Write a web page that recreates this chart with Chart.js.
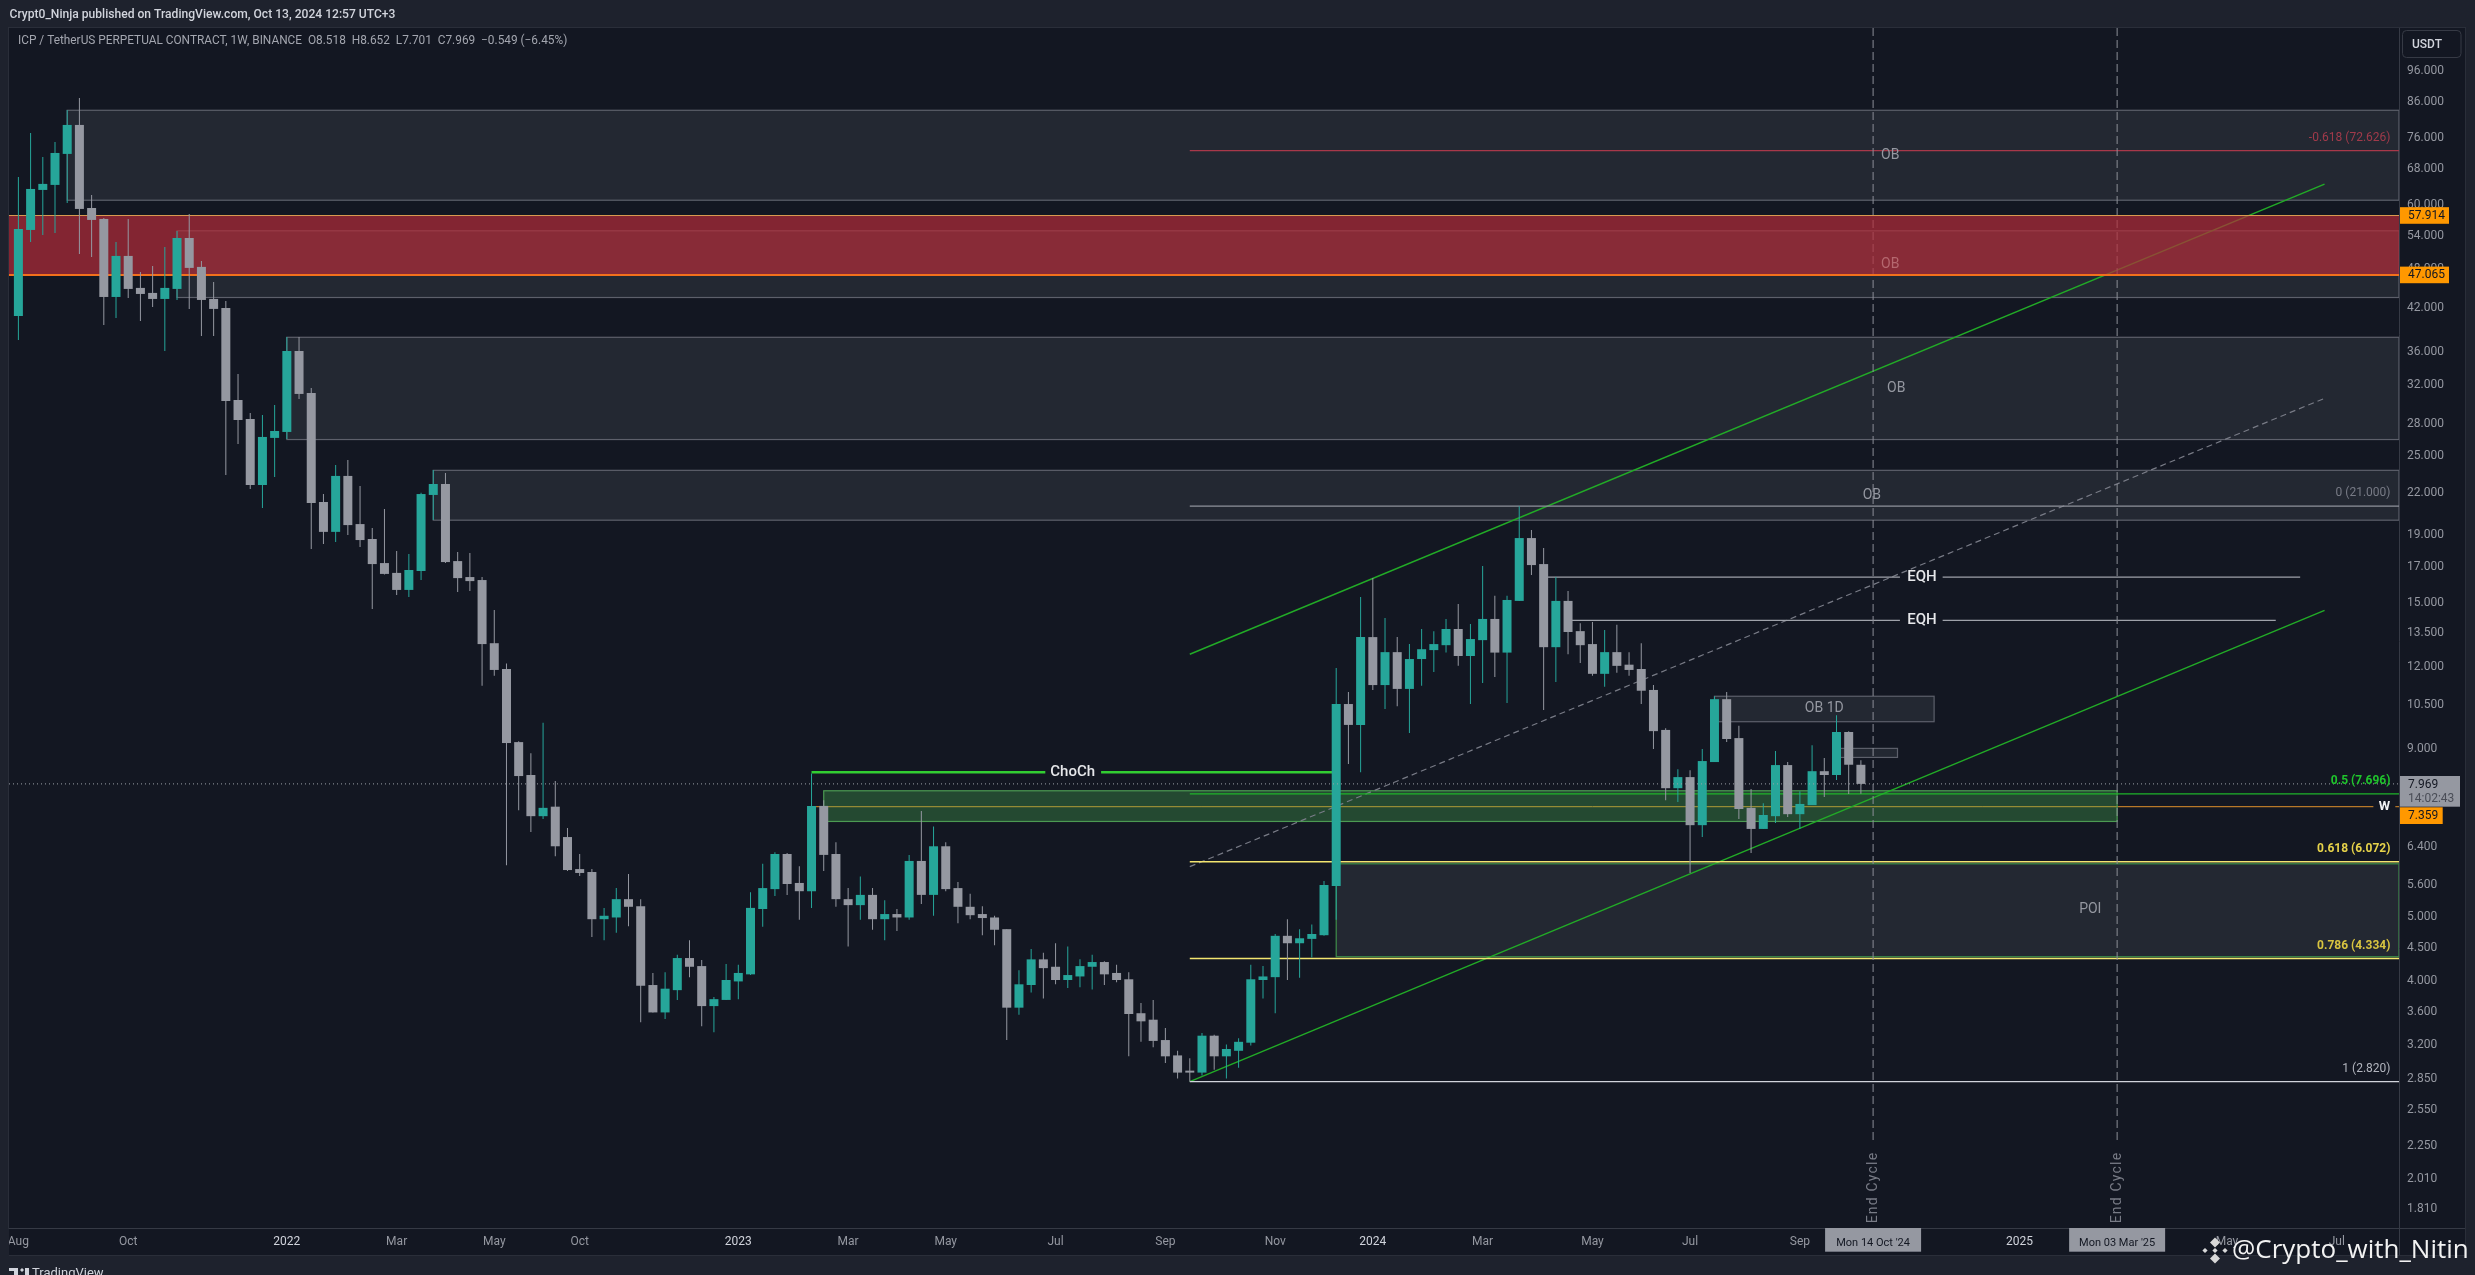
<!DOCTYPE html>
<html>
<head>
<meta charset="utf-8">
<title>ICP / TetherUS 1W</title>
<script src="https://cdn.jsdelivr.net/npm/chart.js@4"></script>
<style>
  html, body { margin: 0; padding: 0; background: #1e222d; }
  canvas { display: block; }
</style>
</head>
<body>
<canvas id="chart" width="2475" height="1275"></canvas>
<script>
// weekly candles
const opens = [40.79,55.06,63.31,64.43,71.79,79.43,59.45,57.22,43.58,50.29,44.98,44.20,43.28,44.82,53.54,48.40,43.28,41.94,30.42,28.47,
  22.61,26.65,27.21,36.09,31.17,21.31,19.20,23.34,19.73,18.73,17.22,16.64,15.68,16.75,21.84,22.69,17.34,16.40,16.23,13.02,
  11.90,9.22,8.22,7.12,7.36,6.62,5.92,5.86,4.97,5.00,5.33,5.20,3.95,3.59,3.88,4.34,4.22,3.67,3.75,4.00,
  4.10,5.15,5.52,6.24,5.64,5.48,7.38,6.24,5.33,5.22,5.41,4.97,5.06,5.00,6.09,5.41,6.41,5.54,5.19,5.06,
  5.00,4.80,3.65,3.95,4.32,4.21,4.02,4.07,4.21,4.28,4.12,4.03,3.58,3.50,3.26,3.09,2.93,2.91,3.31,3.08,
  3.14,3.23,4.02,4.06,4.69,4.57,4.64,4.70,5.58,10.53,9.79,13.30,11.25,12.62,11.10,12.32,12.71,12.93,13.68,12.45,
  13.16,14.17,12.60,15.09,18.79,17.16,12.84,15.09,13.58,12.98,11.70,12.62,12.08,11.90,11.06,9.62,7.85,8.16,6.90,8.60,
  10.71,9.35,7.33,6.81,7.12,8.51,7.17,7.40,8.33,8.22,9.55,8.518];
const highs = [66.26,77.24,71.04,74.86,83.70,87.27,62.21,57.42,52.80,57.22,47.56,48.56,51.89,54.87,58.23,49.42,45.93,42.98,33.31,29.07,
  28.87,29.89,37.90,37.90,31.72,21.91,24.24,24.67,22.53,19.47,20.79,17.96,17.77,22.00,23.83,23.58,17.90,17.84,16.40,14.62,
  12.13,9.25,8.87,9.86,8.05,6.83,6.24,5.92,5.17,5.54,5.82,5.33,4.12,4.13,4.39,4.62,4.31,3.79,4.25,4.24,
  5.46,6.03,6.28,6.26,5.98,8.26,7.53,6.50,5.54,5.77,5.54,5.31,5.15,6.22,7.25,6.87,6.50,5.66,5.43,5.20,
  5.03,4.80,4.16,4.48,4.42,4.57,4.52,4.32,4.39,4.29,4.24,4.13,3.71,3.75,3.40,3.14,3.06,3.34,3.32,3.21,
  3.28,4.24,4.22,4.72,4.97,4.80,4.88,5.68,11.94,10.98,15.30,16.34,14.22,13.30,12.98,13.68,13.58,14.17,14.93,13.92,
  17.05,15.36,15.36,21.00,19.33,18.15,16.40,15.62,13.96,14.02,13.63,13.88,12.62,13.02,11.25,9.68,8.39,8.36,9.00,10.82,
  10.98,9.76,7.83,7.45,8.94,8.60,7.77,9.12,8.72,10.13,9.58,8.652];
const lows = [37.51,52.80,54.11,54.49,60.51,50.64,50.11,39.52,40.50,43.43,40.08,42.09,36.09,43.13,41.80,38.04,38.04,23.42,26.10,22.30,
  20.87,23.26,26.55,30.53,18.08,18.40,18.53,19.00,18.21,14.67,16.55,15.41,15.30,16.23,20.01,17.22,15.57,15.62,11.22,11.62,
  6.00,7.27,6.74,7.05,6.19,5.88,5.78,4.67,4.62,4.74,4.85,3.47,3.59,3.51,3.75,4.06,3.42,3.35,3.75,3.76,
  4.09,4.84,5.39,5.41,4.96,5.17,5.88,5.19,4.52,4.96,4.79,4.62,4.77,4.96,5.24,5.03,5.48,4.90,4.97,4.70,
  4.54,3.26,3.56,3.85,3.77,3.96,3.91,3.92,3.89,3.95,3.99,3.08,3.24,3.18,3.01,2.85,2.82,2.88,2.94,2.85,
  2.96,3.20,3.77,3.58,4.02,4.05,4.35,4.69,4.96,8.54,8.30,11.06,10.35,10.45,9.52,11.22,11.78,12.60,12.03,10.53,
  11.33,11.57,10.57,15.09,16.52,10.31,11.37,12.53,12.15,11.62,11.18,11.74,11.62,10.53,9.00,7.53,7.48,5.84,6.62,8.60,
  9.22,7.05,6.26,6.81,6.95,7.10,6.81,7.40,7.61,8.08,7.69,7.701];
const closes = [55.25,63.53,64.66,72.03,79.43,59.25,57.02,43.58,50.29,44.82,44.04,43.28,44.98,53.54,48.23,43.13,41.80,30.31,28.37,22.61,
  26.74,27.30,36.09,31.07,21.24,19.20,23.34,19.66,18.66,17.16,16.58,15.68,16.81,21.91,22.69,17.28,16.34,16.17,12.98,11.86,
  9.19,8.19,7.12,7.33,6.41,5.90,5.84,4.97,5.03,5.33,5.19,3.94,3.59,3.90,4.34,4.21,3.67,3.76,4.02,4.12,
  5.17,5.54,6.24,5.62,5.48,7.38,6.22,5.33,5.22,5.41,4.97,5.06,5.00,6.09,5.41,6.41,5.52,5.19,5.04,4.99,
  4.79,3.65,3.96,4.32,4.19,4.02,4.09,4.22,4.28,4.10,4.02,3.57,3.48,3.25,3.08,2.91,2.91,3.31,3.08,3.16,
  3.24,4.03,4.07,4.69,4.57,4.65,4.72,5.60,10.53,9.79,13.30,11.25,12.62,11.10,12.32,12.75,12.98,13.68,12.45,13.21,
  14.17,12.60,15.14,18.79,17.10,12.84,15.09,13.54,12.93,11.70,12.62,12.03,11.86,11.03,9.58,7.85,8.16,6.90,8.63,10.71,
  9.32,7.30,6.81,7.15,8.51,7.17,7.43,8.33,8.22,9.55,8.52,7.969];

// axes
const yTicks = [96,86,76,68,60,54,48,42,36,32,28,25,22,19,17,15,13.5,12,10.5,9,6.4,5.6,5,4.5,4,3.6,3.2,2.85,2.55,2.25,2.01,1.81];
const xTickPositions = [0,9,22,31,39,46,59,68,76,85,94,103,111,120,129,137,146,164,181,190];
const xTickLabels = ['Aug','Oct','2022','Mar','May','Oct','2023','Mar','May','Jul','Sep','Nov','2024','Mar','May','Jul','Sep','2025','May','Jul'];
const yMin = 1.692;
const yMax = 111.4;
const xMin = -0.77;
const xMax = 195.1;

// drawings: [from index, to index, top price, bottom price]
const obZones = [
  [4, xMax, 83.6, 61.08],
  [13, xMax, 54.9, 43.5],
  [22, xMax, 37.86, 26.5],
  [34, xMax, 23.8, 20.0],
  [139, 157, 10.82, 9.9],
  [149, 154, 9.02, 8.74]
];
const poiZone = [108, xMax, 6.03, 4.36];
const greenZone = [66, 172, 7.78, 6.99];
const redZone = [xMin, xMax, 57.914, 47.065];

const fibLevels = [72.626, 21.0, 7.696, 6.072, 4.334, 2.82];
const fibLabels = ['-0.618 (72.626)', '0 (21.000)', '0.5 (7.696)', '0.618 (6.072)', '0.786 (4.334)', '1 (2.820)'];
const fibLineColors = ['#a8384a', '#8f929b', '#1fb52a', '#f3e56f', '#f3e56f', '#d1d4dc'];
const fibTextColors = ['#a03a4a', '#787b86', '#1fc42c', '#e6d24a', '#d8c440', '#b2b5be'];
const fibTextFonts = ['12px Roboto', '12px Roboto', 'bold 12px Roboto', 'bold 12px Roboto', 'bold 12px Roboto', '12px Roboto'];

const channelStart = 96;
const channelEnd = 189;
const channelUpper = [12.53, 64.6];
const channelMiddle = [5.97, 30.6];
const channelLower = [2.82, 14.6];

const chochLevel = 8.30;
const eqhHigh = 16.4;
const eqhLow = 14.1;
const wLevel = 7.359;
const lastPrice = 7.969;
const cycleEnds = [152, 172];
const cycleDates = ["Mon 14 Oct '24", "Mon 03 Mar '25"];

function candleColor(i) {
    return closes[i] >= opens[i] ? '#26a69a' : '#9598a1';
}

function lineSet(label, points, color, width, dash) {
    return {
        type: 'line',
        label,
        data: points.map(p => ({ x: p[0], y: p[1] })),
        borderColor: color,
        borderWidth: width,
        borderDash: dash || [],
        pointRadius: 0,
        tension: 0
    };
}

const underlays = [
    lineSet('w left', [[65, wLevel], [193, wLevel]], '#e0902a', 1),
    lineSet('w right', [[194.8, wLevel], [xMax, wLevel]], '#e0902a', 1)
];
const fibSets = fibLevels.map((v, i) => lineSet('fib ' + fibLabels[i], [[channelStart, v], [xMax, v]], fibLineColors[i], i === 3 || i === 4 ? 1.5 : 1.2));
const lineSets = [
    lineSet('channel upper', [[channelStart, channelUpper[0]], [channelEnd, channelUpper[1]]], '#22ab27', 1.5),
    lineSet('channel lower', [[channelStart, channelLower[0]], [channelEnd, channelLower[1]]], '#22ab27', 1.5),
    lineSet('channel middle', [[channelStart, channelMiddle[0]], [channelEnd, channelMiddle[1]]], '#787b86', 1.2, [6, 4]),
    ...fibSets,
    lineSet('choch left', [[65, chochLevel], [84.16, chochLevel]], '#32cd32', 2.5),
    lineSet('choch right', [[88.73, chochLevel], [108, chochLevel]], '#32cd32', 2.5),
    lineSet('eqh high left', [[125, eqhHigh], [154.2, eqhHigh]], '#9fa2aa', 1.2),
    lineSet('eqh high right', [[157.7, eqhHigh], [187, eqhHigh]], '#9fa2aa', 1.2),
    lineSet('eqh low left', [[127, eqhLow], [154.2, eqhLow]], '#9fa2aa', 1.2),
    lineSet('eqh low right', [[157.7, eqhLow], [185, eqhLow]], '#9fa2aa', 1.2),
    lineSet('cycle 1', [[cycleEnds[0], yMax], [cycleEnds[0], 2.285]], '#8b8e97', 1, [8, 4]),
    lineSet('cycle 2', [[cycleEnds[1], yMax], [cycleEnds[1], 2.285]], '#8b8e97', 1, [8, 4])
];
const redLevels = [
    lineSet('red top', [[xMin, redZone[2]], [xMax, redZone[2]]], '#d89a50', 1.2),
    lineSet('red bottom', [[xMin, redZone[3]], [xMax, redZone[3]]], '#f2701c', 2)
];
const wicks = {
    label: 'wicks',
    data: highs.map((h, i) => ({ x: i, y: [lows[i], h] })),
    backgroundColor: highs.map((h, i) => candleColor(i)),
    barThickness: 1,
    grouped: false,
    inflateAmount: 0
};
const bodies = {
    label: 'bodies',
    data: opens.map((o, i) => ({ x: i, y: [o, closes[i]] })),
    backgroundColor: opens.map((o, i) => candleColor(i)),
    barThickness: 9,
    grouped: false,
    inflateAmount: 0
};
const priceLine = lineSet('last price', [[xMin, lastPrice], [xMax, lastPrice]], '#9da0a8', 1, [1, 3]);

const datasets = [...underlays, ...lineSets, ...redLevels, wicks, bodies, priceLine];
datasets.forEach((d, i) => { d.order = datasets.length - i; });

function drawZone(chart, zone, fill, stroke) {
    const { ctx, chartArea, scales } = chart;
    const left = scales.x.getPixelForValue(zone[0]);
    const right = scales.x.getPixelForValue(zone[1]);
    const top = scales.y.getPixelForValue(zone[2]);
    const bottom = scales.y.getPixelForValue(zone[3]);
    ctx.save();
    ctx.beginPath();
    ctx.rect(chartArea.left, chartArea.top, chartArea.width, chartArea.height);
    ctx.clip();
    ctx.fillStyle = fill;
    ctx.fillRect(left, top, right - left, bottom - top);
    if (stroke) {
        ctx.strokeStyle = stroke;
        ctx.lineWidth = 1.2;
        ctx.strokeRect(left, top, right - left, bottom - top);
    }
    ctx.restore();
}

function put(ctx, text, x, y, font, color, align, baseline) {
    ctx.font = font;
    ctx.fillStyle = color;
    ctx.textAlign = align || 'center';
    ctx.textBaseline = baseline || 'middle';
    ctx.fillText(text, x, y);
}

function tag(ctx, text, x, y, w, h, bg) {
    ctx.fillStyle = bg;
    ctx.fillRect(x, y, w, h);
    put(ctx, text, x + 8, y + h / 2 + 0.5, '12px Roboto', '#131722', 'left');
}

function diamond(ctx, x, y, r) {
    ctx.beginPath();
    ctx.moveTo(x, y - r);
    ctx.lineTo(x + r, y);
    ctx.lineTo(x, y + r);
    ctx.lineTo(x - r, y);
    ctx.closePath();
    ctx.fill();
}

const tvPlugin = {
    id: 'tvDrawings',
    beforeDraw(chart) {
        const { ctx } = chart;
        ctx.save();
        ctx.fillStyle = '#1e222d';
        ctx.fillRect(0, 0, chart.width, chart.height);
        ctx.fillStyle = '#131722';
        ctx.fillRect(9, 28, 2456, 1227);
        ctx.strokeStyle = '#2a2e39';
        ctx.lineWidth = 1;
        ctx.strokeRect(8.5, 27.5, 2457, 1228);
        ctx.restore();
    },
    beforeDatasetsDraw(chart) {
        obZones.forEach(z => drawZone(chart, z, 'rgba(149, 152, 161, 0.13)', '#5d606b'));
        drawZone(chart, poiZone, 'rgba(149, 152, 161, 0.13)', '#3f8f4b');
    },
    beforeDatasetDraw(chart, args) {
        const label = chart.data.datasets[args.index].label;
        if (label === 'channel upper') {
            drawZone(chart, greenZone, 'rgba(76, 180, 80, 0.32)', '#4c9a52');
        }
        if (label === 'red top') {
            drawZone(chart, redZone, 'rgba(179, 44, 57, 0.7)', null);
        }
    },
    afterDatasetsDraw(chart) {
        const { ctx, scales } = chart;
        const x = v => scales.x.getPixelForValue(v);
        const y = v => scales.y.getPixelForValue(v);
        ctx.save();

        // labels on the drawings
        const zoneFont = '14px Roboto';
        put(ctx, 'OB', x(153.4), y(71.3), zoneFont, '#9598a1');
        put(ctx, 'OB', x(153.4), y(48.73), zoneFont, '#b5686f');
        put(ctx, 'OB', x(153.9), y(31.72), zoneFont, '#9598a1');
        put(ctx, 'OB', x(151.9), y(21.8), zoneFont, '#9598a1');
        put(ctx, 'OB 1D', x(148), y(10.36), zoneFont, '#9598a1');
        put(ctx, 'POI', x(169.8), y(5.15), zoneFont, '#9598a1');
        put(ctx, 'ChoCh', x(86.4), y(chochLevel), '500 15px Roboto', '#e6e7ea');
        put(ctx, 'EQH', x(156), y(eqhHigh), '500 15px Roboto', '#e6e7ea');
        put(ctx, 'EQH', x(156), y(eqhLow), '500 15px Roboto', '#e6e7ea');
        put(ctx, 'W', x(193.9), y(wLevel), 'bold 13px Roboto', '#f0f1f3');

        fibLabels.forEach((t, i) => {
            put(ctx, t, x(194.4), y(fibLevels[i]) - 12.8, fibTextFonts[i], fibTextColors[i], 'right');
        });

        cycleEnds.forEach(c => {
            ctx.save();
            ctx.translate(x(c), 1187.5);
            ctx.rotate(-Math.PI / 2);
            ctx.letterSpacing = '1.2px';
            put(ctx, 'End Cycle', 0, 0, '14px Roboto', '#787b86');
            ctx.restore();
        });
        ctx.restore();
    },
    afterDraw(chart) {
        const { ctx, scales, chartArea } = chart;
        ctx.save();

        // the first time label runs under the left margin
        ctx.fillStyle = '#1e222d';
        ctx.fillRect(0, 1229, 9, 27);

        // pane separators
        ctx.strokeStyle = '#363a45';
        ctx.lineWidth = 1;
        ctx.beginPath();
        ctx.moveTo(chartArea.right + 0.5, 28);
        ctx.lineTo(chartArea.right + 0.5, 1255);
        ctx.moveTo(9, chartArea.bottom + 0.5);
        ctx.lineTo(2465, chartArea.bottom + 0.5);
        ctx.stroke();

        // header and legend
        put(ctx, 'Crypt0_Ninja published on TradingView.com, Oct 13, 2024 12:57 UTC+3', 9.5, 15, '500 12.1px Roboto', '#d1d4dc', 'left');
        put(ctx, 'ICP / TetherUS PERPETUAL CONTRACT, 1W, BINANCE  O8.518  H8.652  L7.701  C7.969  \u22120.549 (\u22126.45%)', 18, 41.5, '11.85px Roboto', '#a3a6af', 'left');

        // currency button
        ctx.strokeStyle = '#363a45';
        ctx.beginPath();
        ctx.roundRect(2402.5, 30.5, 58.5, 27, 4);
        ctx.stroke();
        put(ctx, 'USDT', 2412, 44.5, '500 12px Roboto', '#d1d4dc', 'left');

        // price tags
        const orange = '#ff9800';
        tag(ctx, '57.914', 2400, scales.y.getPixelForValue(57.914) - 8.3, 49, 16.6, orange);
        tag(ctx, '47.065', 2400, scales.y.getPixelForValue(47.065) - 8.3, 49, 16.6, orange);
        ctx.fillStyle = '#9598a1';
        ctx.fillRect(2400, 776, 60, 30.7);
        put(ctx, '7.969', 2408, 784.5, '12px Roboto', '#131722', 'left');
        put(ctx, '14:02:43', 2408, 798.5, '12px Roboto', '#4a4d57', 'left');
        tag(ctx, '7.359', 2400, 807.3, 42.7, 16.7, orange);

        // date tags under the cycle lines
        cycleEnds.forEach((c, i) => {
            const mid = scales.x.getPixelForValue(c);
            ctx.fillStyle = '#9598a1';
            ctx.fillRect(mid - 48, 1228, 96, 23.7);
            put(ctx, cycleDates[i], mid, 1243, '11px Roboto', '#131722');
        });

        // watermark
        ctx.fillStyle = '#d8d8d8';
        diamond(ctx, 2215, 1242.5, 5);
        diamond(ctx, 2215, 1258.5, 5);
        diamond(ctx, 2215, 1250.5, 2.6);
        diamond(ctx, 2205, 1250.5, 2.6);
        diamond(ctx, 2225, 1250.5, 2.6);
        put(ctx, '@Crypto_with_Nitin', 2232, 1251, '26px "Open Sans"', '#f2f2f2', 'left');

        // site mark at the foot
        ctx.fillStyle = '#d1d4dc';
        ctx.fillRect(9, 1268, 9, 3);
        ctx.fillRect(14, 1268, 4, 7);
        diamond(ctx, 22, 1270, 2);
        ctx.fillRect(25, 1268, 4, 7);
        put(ctx, 'TradingView', 32, 1274, '13px Roboto', '#d1d4dc', 'left');
        ctx.restore();
    }
};

new Chart(document.getElementById('chart').getContext('2d'), {
    type: 'bar',
    data: { datasets },
    plugins: [tvPlugin],
    options: {
        responsive: false,
        animation: false,
        devicePixelRatio: 1,
        events: [],
        layout: { padding: { left: 9, top: 28, right: 10, bottom: 20 } },
        plugins: {
            legend: { display: false },
            tooltip: { enabled: false }
        },
        scales: {
            x: {
                type: 'linear',
                min: xMin,
                max: xMax,
                offset: false,
                grid: { display: false, drawTicks: false },
                border: { display: false },
                afterBuildTicks: scale => {
                    scale.ticks = xTickPositions.map(value => ({ value }));
                },
                afterFit: scale => { scale.height = 27; },
                ticks: {
                    autoSkip: false,
                    maxRotation: 0,
                    padding: 7,
                    color: ctx => /^\d/.test(xTickLabels[ctx.index]) ? '#d1d4dc' : '#9598a1',
                    font: { family: 'Roboto', size: 12 },
                    callback: (value, index) => xTickLabels[index]
                }
            },
            y: {
                type: 'logarithmic',
                position: 'right',
                min: yMin,
                max: yMax,
                grid: { display: false, drawTicks: false },
                border: { display: false },
                afterBuildTicks: scale => {
                    scale.ticks = yTicks.map(value => ({ value }));
                },
                afterFit: scale => { scale.width = 66; },
                ticks: {
                    autoSkip: false,
                    padding: 8,
                    color: '#9598a1',
                    font: { family: 'Roboto', size: 12 },
                    callback: value => value.toFixed(3)
                }
            }
        }
    }
});
</script>
</body>
</html>
